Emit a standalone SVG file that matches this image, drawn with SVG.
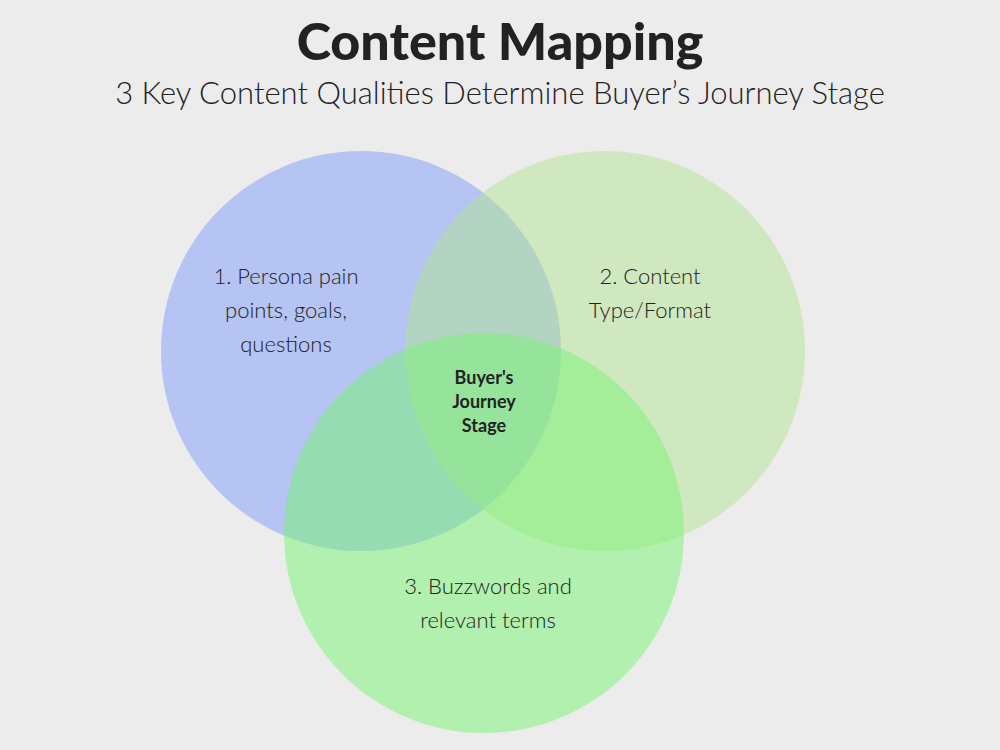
<svg xmlns="http://www.w3.org/2000/svg" width="1000" height="750" viewBox="0 0 1000 750">
<style>
.t{font-family:"Lato","Open Sans",sans-serif;fill:#222;text-anchor:middle}
.lbl{font-size:22px;font-weight:300}
.c{fill-opacity:0.5}
</style>
<rect width="1000" height="750" fill="#ececec"/>
<text class="t" x="500" y="60" font-size="52" font-weight="900">Content Mapping</text>
<text class="t" x="500" y="104" font-size="31" font-weight="300">3 Key Content Qualities Determine Buyer’s Journey Stage</text>
<g id="circle1"><circle class="c" cx="361" cy="351" r="200" fill="#7e9cf8"/></g>
<g id="circle2"><circle class="c" cx="605" cy="351" r="200" fill="#b4e494"/></g>
<g id="circle3"><circle class="c" cx="484" cy="533" r="200" fill="#78f474"/></g>
<g id="label1"><text class="t lbl" x="286" y="284">1. Persona pain</text><text class="t lbl" x="286" y="318">points, goals,</text><text class="t lbl" x="286" y="352">questions</text></g>
<g id="label2"><text class="t lbl" x="650" y="284">2. Content</text><text class="t lbl" x="650" y="318">Type/Format</text></g>
<g id="label3"><text class="t lbl" x="488" y="594">3. Buzzwords and</text><text class="t lbl" x="488" y="628">relevant terms</text></g>
<g id="center"><text class="t" x="484" y="384" font-size="18" font-weight="700">Buyer's</text><text class="t" x="484" y="408" font-size="18" font-weight="700">Journey</text><text class="t" x="484" y="432" font-size="18" font-weight="700">Stage</text></g>
<g id="connectors"/>
</svg>
